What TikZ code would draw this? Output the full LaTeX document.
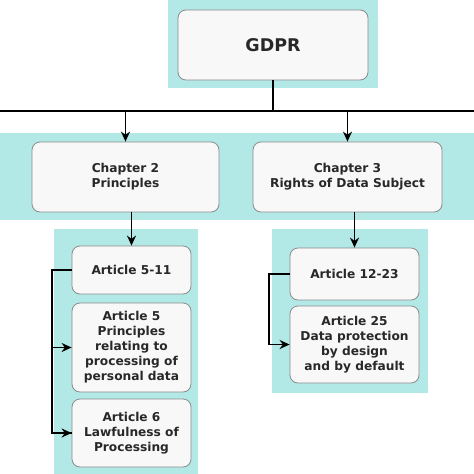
\documentclass[tikz,border=0pt]{standalone}
\usepackage{fontspec}
\setmainfont{DejaVu Sans}
\usetikzlibrary{arrows.meta}
\definecolor{teal1}{RGB}{178,232,230}
\definecolor{boxfill}{RGB}{248,248,248}
\definecolor{boxline}{RGB}{140,140,140}
\definecolor{txt}{RGB}{40,40,40}
\tikzset{
  band/.style={fill=teal1, draw=none},
  box/.style={draw=boxline, fill=boxfill, rounded corners=8pt, line width=0.8pt,
    align=center, text=txt, font=\bfseries\fontsize{12.2}{15}\selectfont, inner sep=0pt},
  conn/.style={line width=1.8pt, draw=black},
  arr/.style={conn, -{Stealth[length=10pt,width=9pt]}}
}
\begin{document}
\begin{tikzpicture}[x={(1pt,0)}, y={(0,-1pt)}]
\useasboundingbox (0,0) rectangle (474,474);
% background bands
\fill[band] (168,0) rectangle (378,88);
\fill[band] (0,133) rectangle (474,220);
\fill[band] (54,229) rectangle (198,474);
\fill[band] (272,229) rectangle (428,393);
% nodes
\node[box, minimum width=190pt, minimum height=70pt, font=\bfseries\fontsize{17.5}{20}\selectfont] (g) at (273,45) {GDPR};
\node[box, minimum width=187pt, minimum height=70pt] (c2) at (125.5,177) {Chapter 2\\Principles};
\node[box, minimum width=189pt, minimum height=70pt] (c3) at (347.5,177) {Chapter 3\\Rights of Data Subject};
\node[box, minimum width=119pt, minimum height=48pt] (a511) at (131.5,270) {Article 5-11};
\node[box, minimum width=119pt, minimum height=89pt] (a5) at (131.5,347.5) {Article 5\\Principles\\relating to\\processing of\\personal data};
\node[box, minimum width=119pt, minimum height=68pt] (a6) at (131.5,433) {Article 6\\Lawfulness of\\Processing};
\node[box, minimum width=129pt, minimum height=52pt] (a1223) at (354.5,274) {Article 12-23};
\node[box, minimum width=129pt, minimum height=77pt] (a25) at (354.5,344.5) {Article 25\\Data protection\\by design\\and by default};
% connectors
\coordinate (hl) at (0,111);
\coordinate (hr) at (474,111);
\draw[conn] (hl) -- (hr);
\draw[conn] (g.south) -- (g.south |- hl);
\draw[arr] (c2.north |- hl) -- (c2.north);
\draw[arr] (c3.north |- hl) -- (c3.north);
\draw[arr] (c2.south -| a511.north) -- (a511.north);
\draw[arr] (c3.south -| a1223.north) -- (a1223.north);
\coordinate (lb) at (52,0);
\coordinate (rb) at (269,0);
\draw[conn] (a511.west) -- (a511.west -| lb) |- (a6.west);
\draw[arr] (a5.west -| lb) -- (a5.west);
\draw[arr] (a6.west -| lb) -- (a6.west);
\draw[arr] (a1223.west) -- (a1223.west -| rb) |- (a25.west);
\end{tikzpicture}
\end{document}
